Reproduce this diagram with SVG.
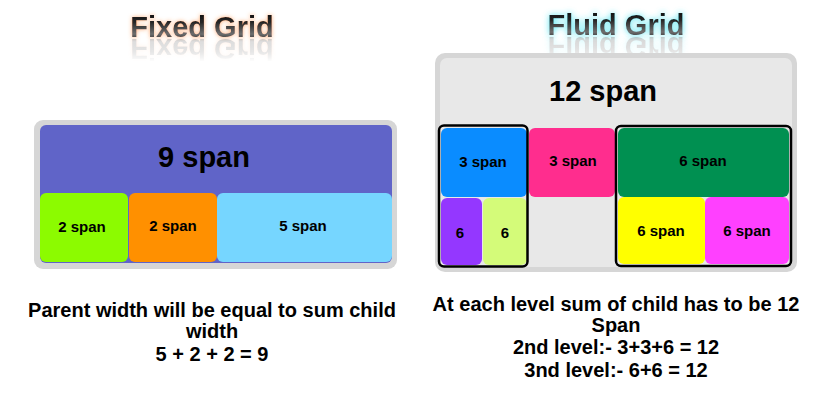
<svg xmlns="http://www.w3.org/2000/svg" xmlns:xlink="http://www.w3.org/1999/xlink" width="820" height="420" viewBox="0 0 820 420">
<defs>
<style>
text{font-family:"Liberation Sans",Arial,Helvetica,sans-serif;font-weight:bold;fill:#000;text-anchor:middle}
.title{font-size:29px;fill:url(#tgrad)}
.big{font-size:29px}
.sm{font-size:15px}
.note{font-size:20px}
.frame{fill:#d6d6d6}
.group{fill:none;stroke:#000;stroke-width:2.5}
</style>
<linearGradient id="tgrad" x1="0" y1="0" x2="0" y2="1">
<stop offset="0" stop-color="#0c0c0c"/>
<stop offset="0.35" stop-color="#262626"/>
<stop offset="0.72" stop-color="#6e6e6e"/>
<stop offset="1" stop-color="#080808"/>
</linearGradient>
<linearGradient id="lgrad" x1="0" y1="0" x2="0" y2="1">
<stop offset="0" stop-color="#ee5a3e"/>
<stop offset="1" stop-color="#b2201e"/>
</linearGradient>
<linearGradient id="fadeG" x1="0" y1="0" x2="0" y2="1">
<stop offset="0" stop-color="#fff" stop-opacity="0.3"/>
<stop offset="1" stop-color="#fff" stop-opacity="0"/>
</linearGradient>
<mask id="fadeMask" maskContentUnits="userSpaceOnUse">
<rect x="0" y="36" width="820" height="26" fill="url(#fadeG)"/>
</mask>
<filter id="glowO" x="-20%" y="-50%" width="140%" height="200%">
<feGaussianBlur in="SourceAlpha" stdDeviation="2" result="b"/>
<feFlood flood-color="#ff8a3a" flood-opacity="0.7"/>
<feComposite in2="b" operator="in" result="g"/>
<feMerge><feMergeNode in="g"/><feMergeNode in="SourceGraphic"/></feMerge>
</filter>
<filter id="glowC" x="-20%" y="-50%" width="140%" height="200%">
<feGaussianBlur in="SourceAlpha" stdDeviation="3" result="b"/>
<feFlood flood-color="#2fe0ef" flood-opacity="0.85"/>
<feComposite in2="b" operator="in" result="g"/>
<feMerge><feMergeNode in="g"/><feMergeNode in="SourceGraphic"/></feMerge>
</filter>
</defs>
<rect width="820" height="420" fill="#fff"/>

<g id="divider">
<line x1="410.5" y1="10" x2="410.5" y2="410" stroke="url(#lgrad)" stroke-width="2"/>
</g>

<!-- Fixed grid -->
<g id="title-fixed">
<text id="tFixed" class="title" x="202" y="37" filter="url(#glowO)">Fixed Grid</text>
</g>
<g id="title-fixed-reflection" mask="url(#fadeMask)">
<g transform="translate(0,38) scale(1,-1) translate(0,-38)">
<use xlink:href="#tFixed"/>
</g>
</g>
<g id="fixed-frame">
<rect class="frame" x="34" y="120" width="363" height="149" rx="9"/>
</g>
<g id="span9">
<rect x="40" y="125" width="352" height="138" rx="6" fill="#6064c8"/>
<text class="big" x="204" y="167">9 span</text>
</g>
<g id="fixed-2span-a">
<rect x="40" y="193" width="88" height="69" rx="6" fill="#8cfb00"/>
<text class="sm" x="82" y="232">2 span</text>
</g>
<g id="fixed-2span-b">
<rect x="129" y="193" width="88" height="69" rx="6" fill="#ff9000"/>
<text class="sm" x="173" y="231">2 span</text>
</g>
<g id="fixed-5span">
<rect x="217" y="193" width="175" height="69" rx="6" fill="#76d6ff"/>
<text class="sm" x="303" y="231">5 span</text>
</g>
<g id="note-fixed">
<text class="note" x="212" y="317">Parent width will be equal to sum child</text>
<text class="note" x="212" y="338">width</text>
<text class="note" x="212" y="361">5 + 2 + 2 = 9</text>
</g>

<!-- Fluid grid -->
<g id="title-fluid">
<text id="tFluid" class="title" x="616" y="35" filter="url(#glowC)">Fluid Grid</text>
</g>
<g id="title-fluid-reflection" mask="url(#fadeMask)">
<g transform="translate(0,36) scale(1,-1) translate(0,-36)">
<use xlink:href="#tFluid"/>
</g>
</g>
<g id="fluid-frame">
<rect class="frame" x="435" y="53" width="362" height="219" rx="10"/>
</g>
<g id="span12">
<rect x="440" y="58" width="352" height="209" rx="7" fill="#e8e8e8"/>
<text class="big" x="603" y="101">12 span</text>
</g>
<g id="fluid-3span-blue">
<rect x="441" y="128" width="86" height="69" rx="6" fill="#0a8cff"/>
<text class="sm" x="483" y="167">3 span</text>
</g>
<g id="fluid-6-purple">
<rect x="441" y="198" width="41" height="67" rx="6" fill="#9437ff"/>
<text class="sm" x="460" y="238">6</text>
</g>
<g id="fluid-6-lightgreen">
<rect x="483" y="198" width="44" height="67" rx="6" fill="#d4fb79"/>
<text class="sm" x="505" y="238">6</text>
</g>
<g id="fluid-3span-pink">
<rect x="529" y="128" width="86" height="69" rx="6" fill="#ff2d8e"/>
<text class="sm" x="573" y="166">3 span</text>
</g>
<g id="fluid-6span-green">
<rect x="618" y="128" width="171" height="69" rx="6" fill="#009051"/>
<text class="sm" x="703" y="166">6 span</text>
</g>
<g id="fluid-6span-yellow">
<rect x="618" y="197" width="87" height="67" rx="6" fill="#ffff00"/>
<text class="sm" x="661" y="236">6 span</text>
</g>
<g id="fluid-6span-magenta">
<rect x="705" y="197" width="84" height="67" rx="6" fill="#ff40ff"/>
<text class="sm" x="747" y="236">6 span</text>
</g>
<g id="groups">
<rect class="group" x="439" y="125.5" width="88.5" height="141" rx="5"/>
<rect class="group" x="616" y="126" width="175" height="140" rx="5"/>
</g>
<g id="note-fluid">
<text class="note" x="616" y="311">At each level sum of child has to be 12</text>
<text class="note" x="616" y="332">Span</text>
<text class="note" x="616" y="354">2nd level:- 3+3+6 = 12</text>
<text class="note" x="616" y="377">3nd level:- 6+6 = 12</text>
</g>
</svg>
